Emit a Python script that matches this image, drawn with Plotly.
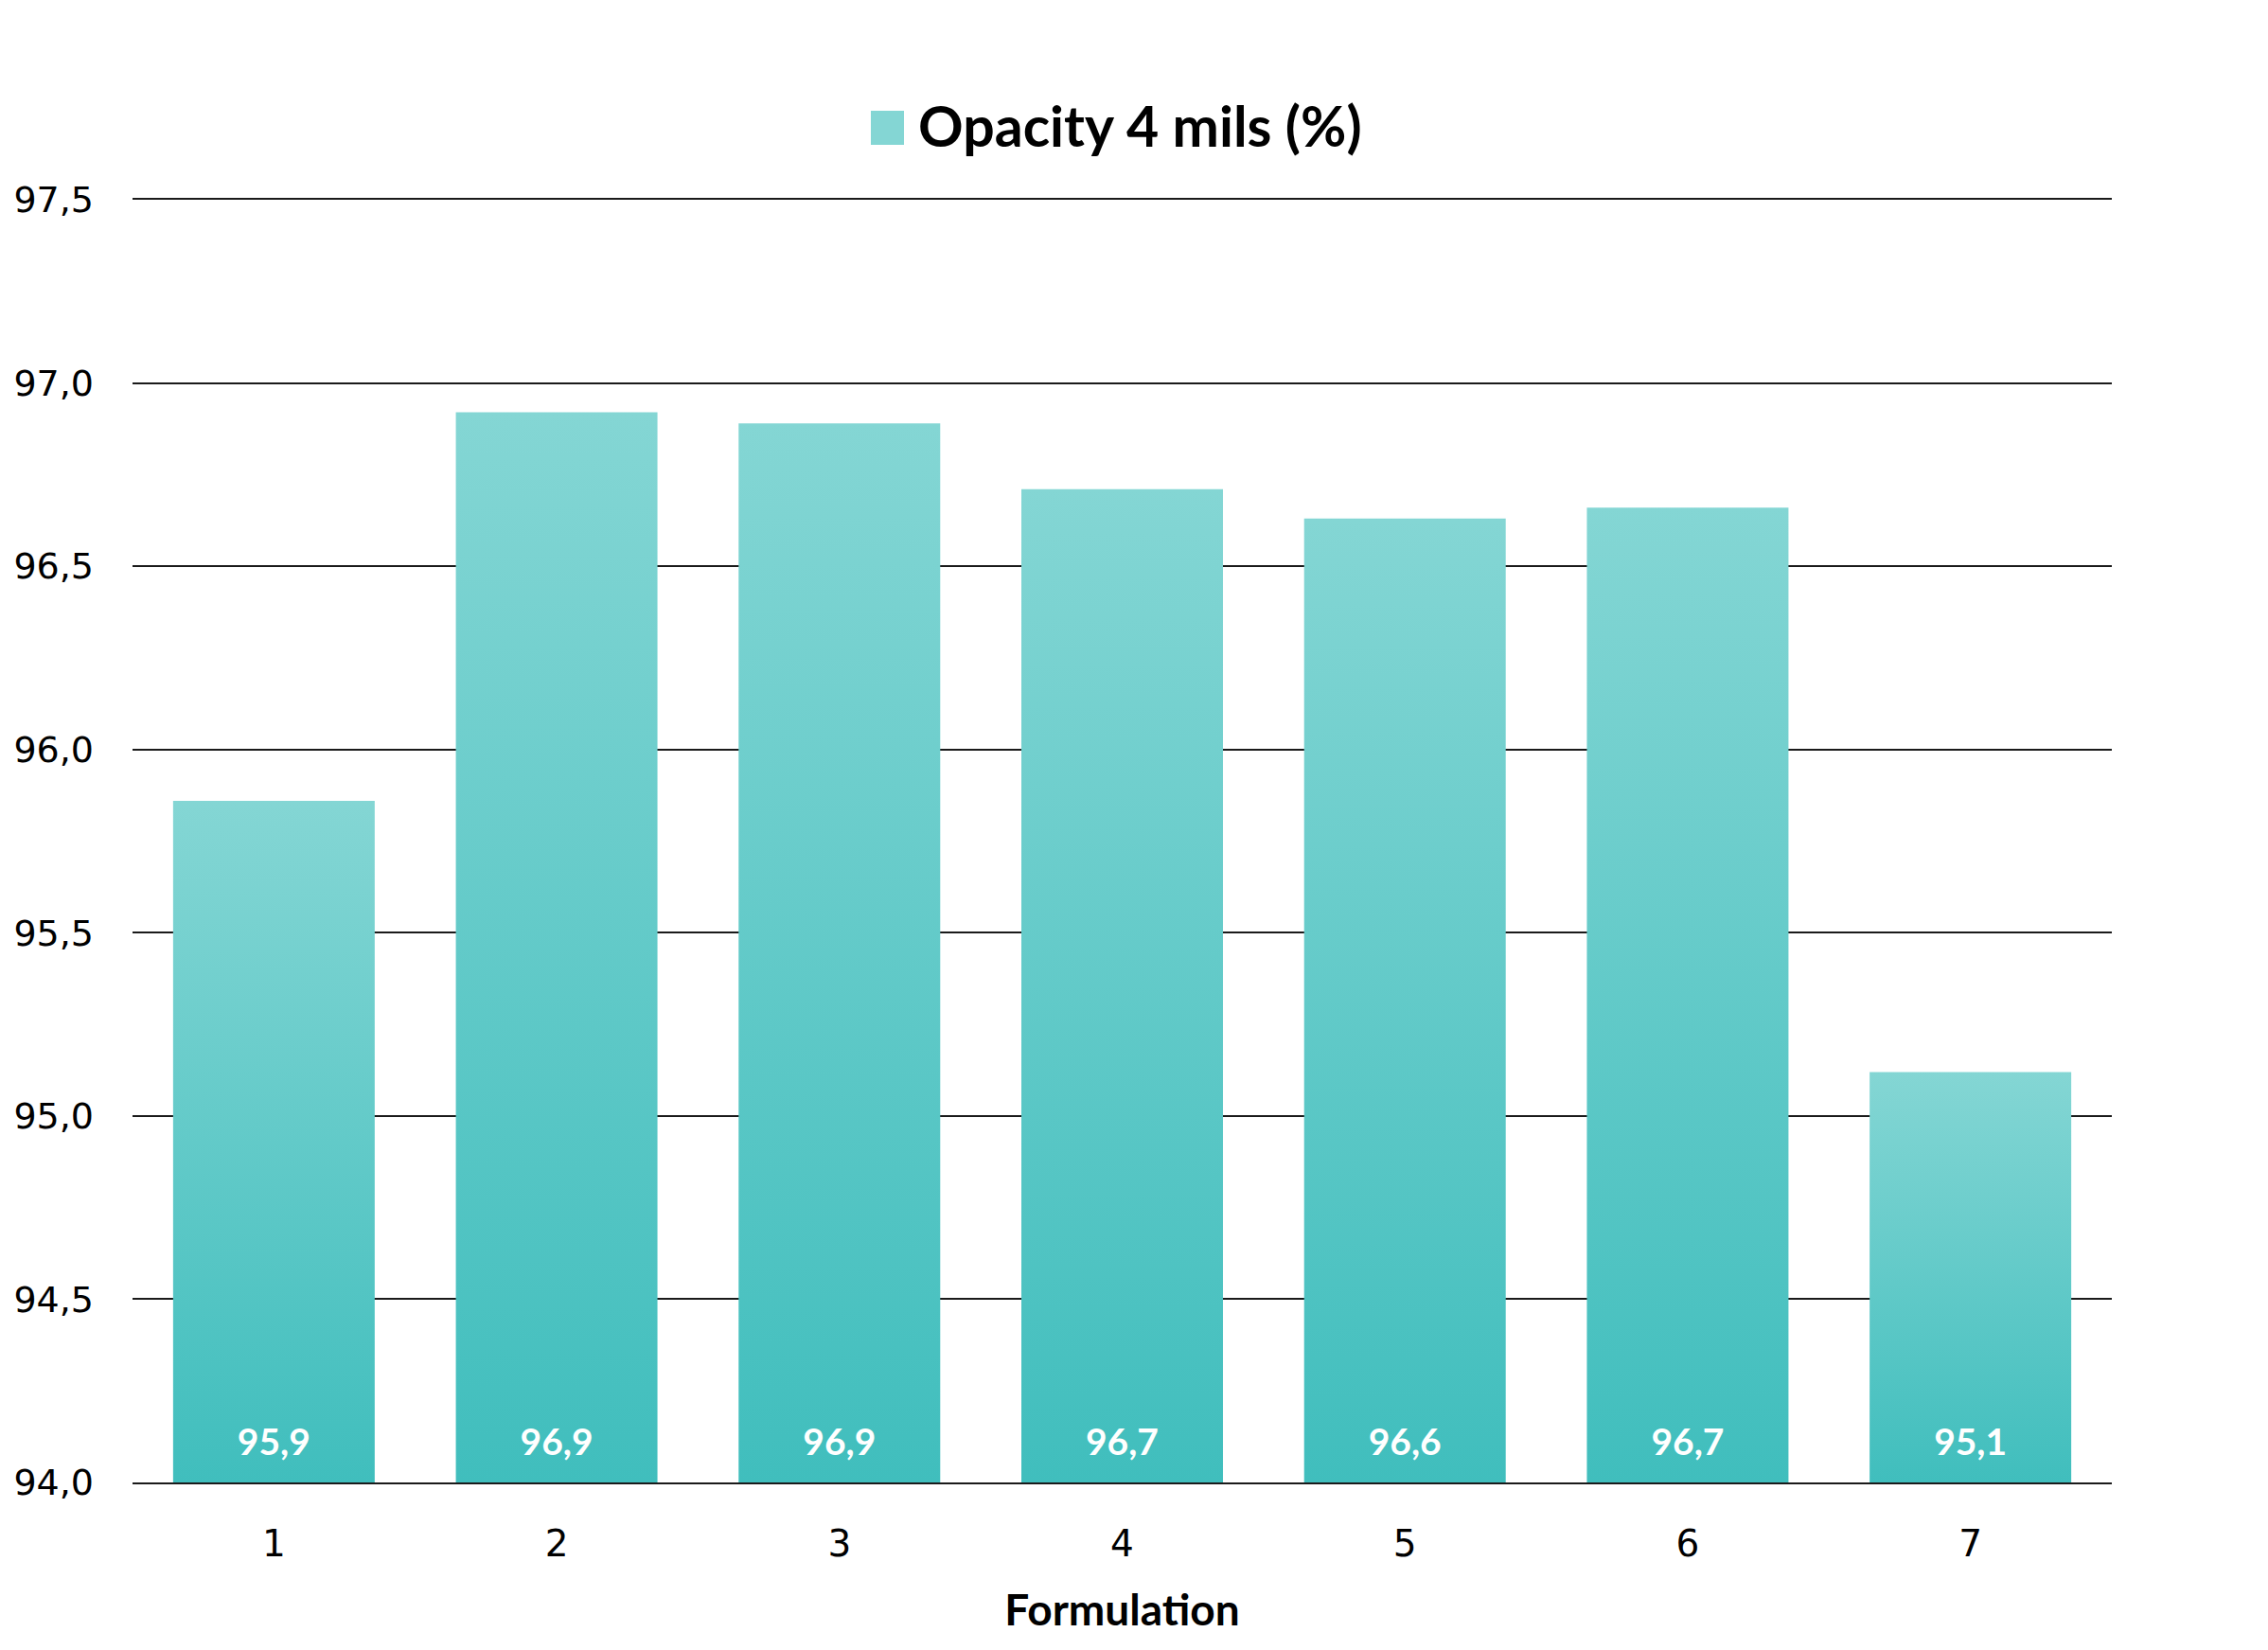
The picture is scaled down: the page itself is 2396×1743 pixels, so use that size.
import plotly.graph_objects as go

formulations = [1, 2, 3, 4, 5, 6, 7]
opacity = [95.86, 96.92, 96.89, 96.71, 96.63, 96.66, 95.12]
labels = ["95,9", "96,9", "96,9", "96,7", "96,6", "96,7", "95,1"]
y_ticks = [94.0, 94.5, 95.0, 95.5, 96.0, 96.5, 97.0, 97.5]

BASE = 94.0
BAR_W = 0.713
LIGHT = '#84D6D4'
DARK = '#40BEBD'
GRID = '#1a1a1a'

# the page body has an 8px margin, so the figure is a bit smaller than the window
W, H = 2388, 1735
ML, MR, MT, MB = 132, 165, 203, 177
PW, PH = W - ML - MR, H - MT - MB


def px_to_paper(x, y):
    return (x - ML) / PW, (MT + PH - y) / PH


fig = go.Figure()

# one filled polygon per bar so each gets its own vertical gradient
for x, v in zip(formulations, opacity):
    fig.add_trace(go.Scatter(
        x=[x - BAR_W / 2, x + BAR_W / 2, x + BAR_W / 2, x - BAR_W / 2, x - BAR_W / 2],
        y=[BASE, BASE, v, v, BASE],
        mode='lines', fill='toself',
        line=dict(width=0, color=LIGHT),
        fillgradient=dict(type='vertical', colorscale=[[0, DARK], [1, LIGHT]]),
        showlegend=False, hoverinfo='skip'
    ))

fig.add_trace(go.Scatter(
    x=formulations, y=[BASE + 0.1] * len(formulations),
    mode='text', text=labels,
    textfont=dict(family='Lato', size=39, color='white', weight='bold'),
    showlegend=False, hoverinfo='skip'
))

# legend drawn by hand so the swatch can be as big as the reference
sx0, sy0 = px_to_paper(912, 145)
sx1, sy1 = px_to_paper(947, 109)
fig.add_shape(type='rect', xref='paper', yref='paper',
              x0=sx0, x1=sx1, y0=sy0, y1=sy1,
              fillcolor=LIGHT, line_width=0)
tx, ty = px_to_paper(960, 125)
fig.add_annotation(text='Opacity 4 mils (%)', xref='paper', yref='paper',
                   x=tx, y=ty, xanchor='left', yanchor='middle', showarrow=False,
                   font=dict(family='Lato', size=59, color='black', weight='bold'))

fig.update_layout(
    width=W, height=H,
    margin=dict(l=ML, r=MR, t=MT, b=MB),
    plot_bgcolor='white', paper_bgcolor='white',
    separators=',.',
    showlegend=False,
)
fig.update_xaxes(
    range=[0.5, 7.5], tickvals=formulations, ticktext=[str(f) for f in formulations],
    showgrid=False, zeroline=False, ticks='',
    showline=True, mirror=True, linecolor=GRID, linewidth=2,
    tickfont=dict(family='DejaVu Sans', size=39, color='black'),
    ticklabelstandoff=29, automargin=False,
    title=dict(text='Formulation', standoff=33,
               font=dict(family='Lato', size=46, color='black', weight='bold'))
)
fig.update_yaxes(
    range=[94.0, 97.5], tickvals=y_ticks, tickformat='.1f',
    showgrid=True, gridcolor=GRID, gridwidth=2,
    zeroline=False, showline=False, ticks='',
    tickfont=dict(family='DejaVu Sans', size=38, color='black'),
    ticklabelstandoff=40, automargin=False,
)

fig.write_html("out.html")
